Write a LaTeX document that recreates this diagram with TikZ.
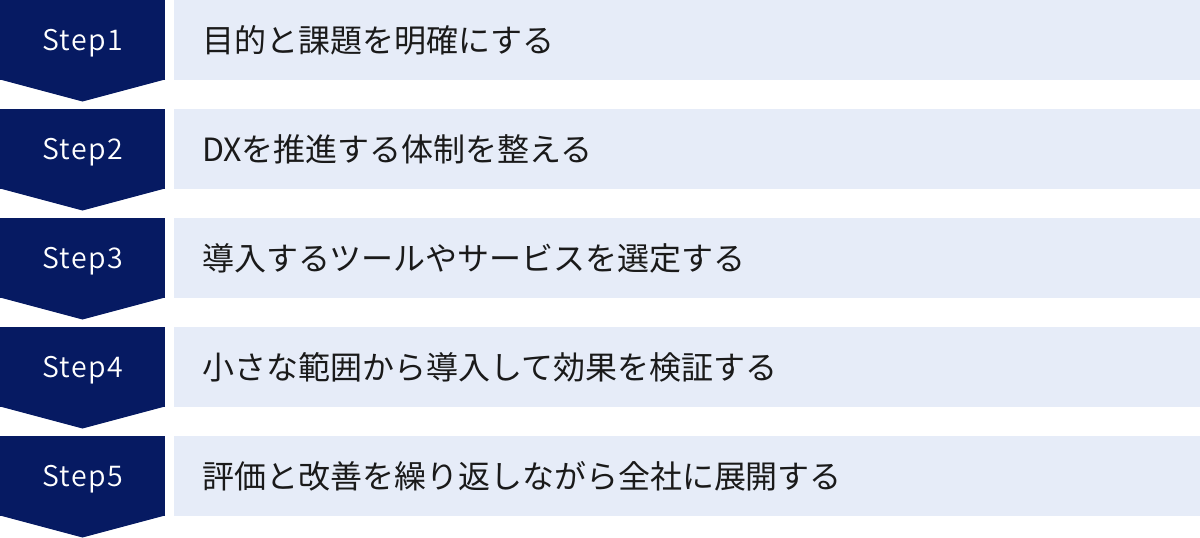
\documentclass[tikz,border=0pt]{standalone}
\usepackage{fontspec}
\setmainfont{Noto Sans CJK JP}
\IfFontExistsTF{Noto Sans CJK JP DemiLight}
   {\newfontfamily\stepfont{Noto Sans CJK JP DemiLight}[LetterSpace=5]}
   {\newfontfamily\stepfont{Noto Sans CJK JP}[LetterSpace=5]}
\usetikzlibrary{positioning,calc}
\definecolor{stepnavy}{HTML}{061A62}
\definecolor{tasklight}{HTML}{E6ECF8}
\definecolor{tasktext}{HTML}{1A1A1A}
\tikzset{
   step flow/.style={%one pixel of the reference is one point
      x=1pt, y=1pt,
      every node/.style={outer sep=0pt}
      },
   step tip/.store in=\steptip,
   step tip=21.5pt,
   stepbox/.style={
      fill=stepnavy,
      text=white,
      inner sep=0pt,
      minimum width=165pt,
      minimum height=80pt,
      text height=21pt,
      text depth=0pt,
      font=\stepfont\fontsize{28.5}{34}\selectfont,
      prefix after command={\pgfextra{\let\fixname\tikzlastnode}},
      append after command={\pgfextra{\fill[stepnavy]
         ($(\fixname.south west)+(0,0.5)$) -- ($(\fixname.south)+(0,-\steptip)$)
         -- ($(\fixname.south east)+(0,0.5)$) -- cycle;}}},
   taskbox/.style={
      fill=tasklight,
      text=tasktext,
      inner xsep=28pt,
      inner ysep=0pt,
      text width=970pt,
      align=left,
      minimum height=80pt,
      font=\fontsize{32}{36}\selectfont}
}
\begin{document}
\begin{tikzpicture}[step flow]
    \useasboundingbox (0,0) rectangle (1200,-538);
    % Step arrows on the left, one every 109px
    \node[stepbox] (step1) at (82.5,-40) {Step1};
    \node[stepbox] (step2) at (82.5,-149) {Step2};
    \node[stepbox] (step3) at (82.5,-258) {Step3};
    \node[stepbox] (step4) at (82.5,-367) {Step4};
    \node[stepbox] (step5) at (82.5,-476) {Step5};

    % Task bars to the right of each step
    \node[taskbox, right=9pt of step1] (task1) {目的と課題を明確にする};
    \node[taskbox, right=9pt of step2] (task2) {DXを推進する体制を整える};
    \node[taskbox, right=9pt of step3] (task3) {導入するツールやサービスを選定する};
    \node[taskbox, right=9pt of step4] (task4) {小さな範囲から導入して効果を検証する};
    \node[taskbox, right=9pt of step5] (task5) {評価と改善を繰り返しながら全社に展開する};
\end{tikzpicture}
\end{document}
